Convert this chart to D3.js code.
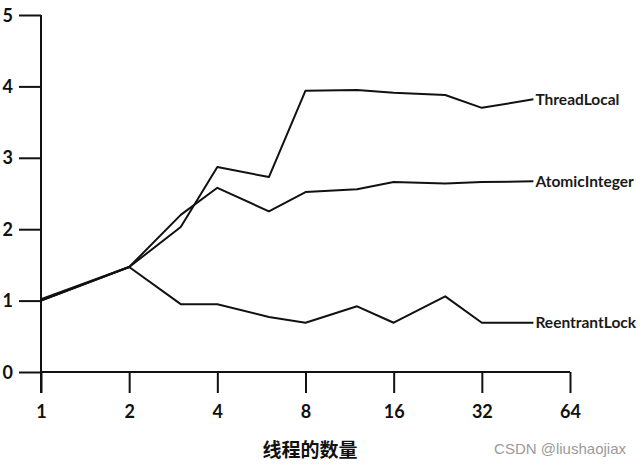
<!DOCTYPE html>
<html><head><meta charset="utf-8">
<script src="https://cdn.jsdelivr.net/npm/d3@7"></script>
<style>body{margin:0;background:#fff}svg{display:block}</style>
</head><body>
<svg id="c" width="642" height="467"></svg>
<script>
const threads = [1, 2, 3, 4, 6, 8, 12, 16, 24, 32, 48];
const threadLocal = [1.0, 1.47, 2.03, 2.87, 2.73, 3.94, 3.95, 3.91, 3.88, 3.70, 3.82];
const atomicInteger = [1.0, 1.47, 2.2, 2.58, 2.25, 2.52, 2.56, 2.66, 2.64, 2.66, 2.67];
const reentrantLock = [1.02, 1.47, 0.95, 0.95, 0.77, 0.69, 0.92, 0.69, 1.06, 0.69, 0.69];
const seriesNames = ["ThreadLocal", "AtomicInteger", "ReentrantLock"];
const xTicks = [1, 2, 4, 8, 16, 32, 64];
const yTicks = [0, 1, 2, 3, 4, 5];
const xTitle = "线程的数量";
const watermark = "CSDN @liushaojiax";

const svg = d3.select("#c");
const x = d3.scaleLog().base(2).domain([1, 64]).range([41, 570]);
const y = d3.scaleLinear().domain([0, 5]).range([372, 15]);

// y axis
const ya = svg.append("g").attr("transform", "translate(41,0)")
  .call(d3.axisLeft(y).tickValues(yTicks).tickSize(22).tickSizeOuter(0).tickFormat(d3.format("d")));
ya.select(".domain").remove();
svg.append("line").attr("x1", 41).attr("x2", 41).attr("y1", y(5)).attr("y2", 393)
  .attr("stroke", "#111").attr("stroke-width", 2);
ya.selectAll(".tick line").attr("stroke", "#111").attr("stroke-width", 2);
ya.selectAll(".tick text").attr("x", -24).attr("dy", "0.34em")
  .attr("font-family", "Lato, 'DejaVu Sans', sans-serif").attr("font-size", 18)
  .attr("font-weight", "bold").attr("fill", "#111").attr("text-anchor", "end")
  .attr("transform", "translate(-4,0)");

// x axis
const xa = svg.append("g").attr("transform", "translate(0,372)")
  .call(d3.axisBottom(x).tickValues(xTicks).tickSize(21).tickSizeOuter(0).tickFormat(d3.format("d")));
xa.select(".domain").attr("stroke", "#111").attr("stroke-width", 2)
  .attr("d", `M41,0H${x(64)}`);
xa.selectAll(".tick line").attr("stroke", "#111").attr("stroke-width", 2);
xa.selectAll(".tick text").attr("y", 40).attr("dy", "0.34em")
  .attr("font-family", "Lato, 'DejaVu Sans', sans-serif").attr("font-size", 18)
  .attr("font-weight", "bold").attr("fill", "#111");

// lines
const data = [threadLocal, atomicInteger, reentrantLock];
const line = d3.line().x((d, i) => x(threads[i])).y(d => y(d));
data.forEach((vals, k) => {
  svg.append("path").attr("d", line(vals)).attr("fill", "none")
    .attr("stroke", "#111").attr("stroke-width", 2).attr("stroke-linejoin", "round");
  svg.append("text").attr("x", x(threads[threads.length - 1]) + 2)
    .attr("y", y(vals[vals.length - 1])).attr("dy", "0.35em")
    .attr("font-family", "Lato, 'DejaVu Sans', sans-serif").attr("font-size", 15.5)
    .attr("font-weight", "bold").attr("fill", "#1a1a1a").text(seriesNames[k]);
});

svg.append("text").attr("x", 310).attr("y", 450).attr("dy", "0.35em").attr("text-anchor", "middle")
  .attr("font-family", "'Noto Sans CJK SC', sans-serif").attr("font-size", 19).attr("font-weight", "bold")
  .attr("fill", "#111").text(xTitle);
svg.append("text").attr("x", 626).attr("y", 449).attr("dy", "0.35em").attr("text-anchor", "end")
  .attr("font-family", "'Liberation Sans', Arial, sans-serif").attr("font-size", 15)
  .attr("fill", "#9a9a9a").text(watermark);
</script>
</body></html>
